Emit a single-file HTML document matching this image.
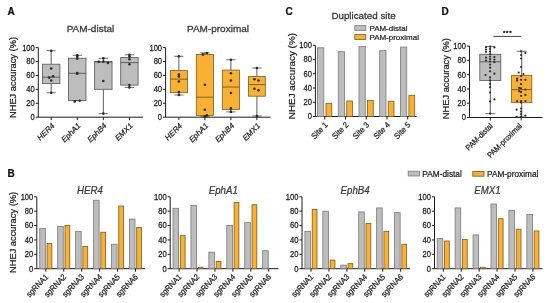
<!DOCTYPE html>
<html><head><meta charset="utf-8"><style>
html,body{margin:0;padding:0;background:#fff;overflow:hidden;width:550px;height:303px;}
svg{display:block;filter:blur(0.3px);font-family:"Liberation Sans", sans-serif;}
</style></head><body>
<svg width="550" height="303" viewBox="0 0 550 303">
<rect x="0" y="0" width="550" height="303" fill="#fff"/>
<text transform="translate(7.40,15.20) scale(1,1.1)" font-size="10" text-anchor="start" font-weight="bold" font-style="normal" fill="#111" stroke="#111" stroke-width="0.22" >A</text>
<text transform="translate(285.60,15.20) scale(1,1.1)" font-size="10" text-anchor="start" font-weight="bold" font-style="normal" fill="#111" stroke="#111" stroke-width="0.22" >C</text>
<text transform="translate(441.60,15.20) scale(1,1.1)" font-size="10" text-anchor="start" font-weight="bold" font-style="normal" fill="#111" stroke="#111" stroke-width="0.22" >D</text>
<text transform="translate(7.60,176.60) scale(1,1.1)" font-size="10" text-anchor="start" font-weight="bold" font-style="normal" fill="#111" stroke="#111" stroke-width="0.22" >B</text>
<line x1="38.30" y1="47.60" x2="38.30" y2="117.20" stroke="#1c1c1c" stroke-width="1"/>
<line x1="35.70" y1="117.20" x2="38.30" y2="117.20" stroke="#1c1c1c" stroke-width="1"/>
<text transform="translate(34.80,120.10) scale(1,1.16)" font-size="7.6" text-anchor="end" font-weight="normal" font-style="normal" fill="#1c1c1c" stroke="#1c1c1c" stroke-width="0.22" >0</text>
<line x1="35.70" y1="103.28" x2="38.30" y2="103.28" stroke="#1c1c1c" stroke-width="1"/>
<text transform="translate(34.80,106.18) scale(1,1.16)" font-size="7.6" text-anchor="end" font-weight="normal" font-style="normal" fill="#1c1c1c" stroke="#1c1c1c" stroke-width="0.22" >20</text>
<line x1="35.70" y1="89.36" x2="38.30" y2="89.36" stroke="#1c1c1c" stroke-width="1"/>
<text transform="translate(34.80,92.26) scale(1,1.16)" font-size="7.6" text-anchor="end" font-weight="normal" font-style="normal" fill="#1c1c1c" stroke="#1c1c1c" stroke-width="0.22" >40</text>
<line x1="35.70" y1="75.44" x2="38.30" y2="75.44" stroke="#1c1c1c" stroke-width="1"/>
<text transform="translate(34.80,78.34) scale(1,1.16)" font-size="7.6" text-anchor="end" font-weight="normal" font-style="normal" fill="#1c1c1c" stroke="#1c1c1c" stroke-width="0.22" >60</text>
<line x1="35.70" y1="61.52" x2="38.30" y2="61.52" stroke="#1c1c1c" stroke-width="1"/>
<text transform="translate(34.80,64.42) scale(1,1.16)" font-size="7.6" text-anchor="end" font-weight="normal" font-style="normal" fill="#1c1c1c" stroke="#1c1c1c" stroke-width="0.22" >80</text>
<line x1="35.70" y1="47.60" x2="38.30" y2="47.60" stroke="#1c1c1c" stroke-width="1"/>
<text transform="translate(34.80,50.50) scale(1,1.16)" font-size="7.6" text-anchor="end" font-weight="normal" font-style="normal" fill="#1c1c1c" stroke="#1c1c1c" stroke-width="0.22" >100</text>
<line x1="38.30" y1="117.20" x2="142.90" y2="117.20" stroke="#1c1c1c" stroke-width="1"/>
<line x1="51.20" y1="117.20" x2="51.20" y2="120.20" stroke="#1c1c1c" stroke-width="1"/>
<line x1="77.27" y1="117.20" x2="77.27" y2="120.20" stroke="#1c1c1c" stroke-width="1"/>
<line x1="103.34" y1="117.20" x2="103.34" y2="120.20" stroke="#1c1c1c" stroke-width="1"/>
<line x1="129.41" y1="117.20" x2="129.41" y2="120.20" stroke="#1c1c1c" stroke-width="1"/>
<text transform="translate(90.40,31.90) scale(1,0.92)" font-size="10" text-anchor="middle" font-weight="normal" font-style="normal" fill="#3a3a3a" stroke="#3a3a3a" stroke-width="0.3" >PAM-distal</text>
<text transform="translate(16.20,77.50) rotate(-90)" font-size="9.3" text-anchor="middle" fill="#1c1c1c" stroke="#1c1c1c" stroke-width="0.22">NHEJ accuracy (%)</text>
<line x1="51.20" y1="50.70" x2="51.20" y2="64.20" stroke="#333" stroke-width="0.8"/>
<line x1="51.20" y1="83.60" x2="51.20" y2="92.70" stroke="#333" stroke-width="0.8"/>
<line x1="46.60" y1="50.70" x2="55.80" y2="50.70" stroke="#4a4a4a" stroke-width="0.8"/>
<line x1="46.60" y1="92.70" x2="55.80" y2="92.70" stroke="#4a4a4a" stroke-width="0.8"/>
<rect x="42.50" y="64.20" width="17.40" height="19.40" fill="#bdbdbd" stroke="#555" stroke-width="0.8"/>
<line x1="42.50" y1="77.20" x2="59.90" y2="77.20" stroke="#555" stroke-width="0.9"/>
<circle cx="51.20" cy="50.70" r="1.3" fill="#2a2a2a"/>
<circle cx="51.20" cy="68.50" r="1.3" fill="#2a2a2a"/>
<circle cx="53.00" cy="76.20" r="1.3" fill="#2a2a2a"/>
<circle cx="49.20" cy="77.60" r="1.3" fill="#2a2a2a"/>
<circle cx="51.20" cy="80.50" r="1.3" fill="#2a2a2a"/>
<circle cx="51.20" cy="92.70" r="1.3" fill="#2a2a2a"/>
<line x1="77.27" y1="55.30" x2="77.27" y2="58.20" stroke="#333" stroke-width="0.8"/>
<line x1="77.27" y1="100.50" x2="77.27" y2="100.50" stroke="#333" stroke-width="0.8"/>
<line x1="72.67" y1="55.30" x2="81.87" y2="55.30" stroke="#4a4a4a" stroke-width="0.8"/>
<line x1="72.67" y1="100.50" x2="81.87" y2="100.50" stroke="#4a4a4a" stroke-width="0.8"/>
<rect x="68.57" y="58.20" width="17.40" height="42.30" fill="#bdbdbd" stroke="#555" stroke-width="0.8"/>
<line x1="68.57" y1="73.30" x2="85.97" y2="73.30" stroke="#555" stroke-width="0.9"/>
<circle cx="77.27" cy="55.30" r="1.3" fill="#2a2a2a"/>
<circle cx="77.27" cy="56.80" r="1.3" fill="#2a2a2a"/>
<circle cx="77.27" cy="58.70" r="1.3" fill="#2a2a2a"/>
<circle cx="77.27" cy="73.00" r="1.3" fill="#2a2a2a"/>
<circle cx="77.27" cy="73.80" r="1.3" fill="#2a2a2a"/>
<circle cx="74.67" cy="101.40" r="1.3" fill="#2a2a2a"/>
<circle cx="79.67" cy="100.80" r="1.3" fill="#2a2a2a"/>
<line x1="103.34" y1="58.30" x2="103.34" y2="61.40" stroke="#333" stroke-width="0.8"/>
<line x1="103.34" y1="89.30" x2="103.34" y2="113.60" stroke="#333" stroke-width="0.8"/>
<line x1="98.74" y1="58.30" x2="107.94" y2="58.30" stroke="#4a4a4a" stroke-width="0.8"/>
<line x1="98.74" y1="113.60" x2="107.94" y2="113.60" stroke="#4a4a4a" stroke-width="0.8"/>
<rect x="94.64" y="61.40" width="17.40" height="27.90" fill="#bdbdbd" stroke="#555" stroke-width="0.8"/>
<line x1="94.64" y1="62.00" x2="112.04" y2="62.00" stroke="#555" stroke-width="0.9"/>
<circle cx="103.34" cy="58.30" r="1.3" fill="#2a2a2a"/>
<circle cx="98.74" cy="61.70" r="1.3" fill="#2a2a2a"/>
<circle cx="103.34" cy="61.60" r="1.3" fill="#2a2a2a"/>
<circle cx="107.94" cy="63.00" r="1.3" fill="#2a2a2a"/>
<circle cx="103.34" cy="81.00" r="1.3" fill="#2a2a2a"/>
<circle cx="103.34" cy="113.60" r="1.3" fill="#2a2a2a"/>
<line x1="129.41" y1="54.80" x2="129.41" y2="57.40" stroke="#333" stroke-width="0.8"/>
<line x1="129.41" y1="85.10" x2="129.41" y2="87.40" stroke="#333" stroke-width="0.8"/>
<line x1="124.81" y1="54.80" x2="134.01" y2="54.80" stroke="#4a4a4a" stroke-width="0.8"/>
<line x1="124.81" y1="87.40" x2="134.01" y2="87.40" stroke="#4a4a4a" stroke-width="0.8"/>
<rect x="120.71" y="57.40" width="17.40" height="27.70" fill="#bdbdbd" stroke="#555" stroke-width="0.8"/>
<line x1="120.71" y1="62.60" x2="138.11" y2="62.60" stroke="#555" stroke-width="0.9"/>
<circle cx="129.41" cy="54.80" r="1.3" fill="#2a2a2a"/>
<circle cx="129.41" cy="56.60" r="1.3" fill="#2a2a2a"/>
<circle cx="129.41" cy="59.20" r="1.3" fill="#2a2a2a"/>
<circle cx="129.41" cy="64.30" r="1.3" fill="#2a2a2a"/>
<circle cx="129.41" cy="85.10" r="1.3" fill="#2a2a2a"/>
<circle cx="129.41" cy="87.40" r="1.3" fill="#2a2a2a"/>
<text transform="translate(55.00,126.30) scale(1,1.0) rotate(-45) scale(1.0,1)" font-size="7.8" text-anchor="end" font-style="italic" fill="#1c1c1c" stroke="#1c1c1c" stroke-width="0.22">HER4</text>
<text transform="translate(81.07,126.30) scale(1,1.0) rotate(-45) scale(1.0,1)" font-size="7.8" text-anchor="end" font-style="italic" fill="#1c1c1c" stroke="#1c1c1c" stroke-width="0.22">EphA1</text>
<text transform="translate(107.14,126.30) scale(1,1.0) rotate(-45) scale(1.0,1)" font-size="7.8" text-anchor="end" font-style="italic" fill="#1c1c1c" stroke="#1c1c1c" stroke-width="0.22">EphB4</text>
<text transform="translate(133.21,126.30) scale(1,1.0) rotate(-45) scale(1.0,1)" font-size="7.8" text-anchor="end" font-style="italic" fill="#1c1c1c" stroke="#1c1c1c" stroke-width="0.22">EMX1</text>
<line x1="165.60" y1="47.60" x2="165.60" y2="117.20" stroke="#1c1c1c" stroke-width="1"/>
<line x1="163.00" y1="117.20" x2="165.60" y2="117.20" stroke="#1c1c1c" stroke-width="1"/>
<text transform="translate(162.10,120.10) scale(1,1.16)" font-size="7.6" text-anchor="end" font-weight="normal" font-style="normal" fill="#1c1c1c" stroke="#1c1c1c" stroke-width="0.22" >0</text>
<line x1="163.00" y1="103.28" x2="165.60" y2="103.28" stroke="#1c1c1c" stroke-width="1"/>
<text transform="translate(162.10,106.18) scale(1,1.16)" font-size="7.6" text-anchor="end" font-weight="normal" font-style="normal" fill="#1c1c1c" stroke="#1c1c1c" stroke-width="0.22" >20</text>
<line x1="163.00" y1="89.36" x2="165.60" y2="89.36" stroke="#1c1c1c" stroke-width="1"/>
<text transform="translate(162.10,92.26) scale(1,1.16)" font-size="7.6" text-anchor="end" font-weight="normal" font-style="normal" fill="#1c1c1c" stroke="#1c1c1c" stroke-width="0.22" >40</text>
<line x1="163.00" y1="75.44" x2="165.60" y2="75.44" stroke="#1c1c1c" stroke-width="1"/>
<text transform="translate(162.10,78.34) scale(1,1.16)" font-size="7.6" text-anchor="end" font-weight="normal" font-style="normal" fill="#1c1c1c" stroke="#1c1c1c" stroke-width="0.22" >60</text>
<line x1="163.00" y1="61.52" x2="165.60" y2="61.52" stroke="#1c1c1c" stroke-width="1"/>
<text transform="translate(162.10,64.42) scale(1,1.16)" font-size="7.6" text-anchor="end" font-weight="normal" font-style="normal" fill="#1c1c1c" stroke="#1c1c1c" stroke-width="0.22" >80</text>
<line x1="163.00" y1="47.60" x2="165.60" y2="47.60" stroke="#1c1c1c" stroke-width="1"/>
<text transform="translate(162.10,50.50) scale(1,1.16)" font-size="7.6" text-anchor="end" font-weight="normal" font-style="normal" fill="#1c1c1c" stroke="#1c1c1c" stroke-width="0.22" >100</text>
<line x1="165.60" y1="117.20" x2="270.50" y2="117.20" stroke="#1c1c1c" stroke-width="1"/>
<line x1="178.90" y1="117.20" x2="178.90" y2="120.20" stroke="#1c1c1c" stroke-width="1"/>
<line x1="204.90" y1="117.20" x2="204.90" y2="120.20" stroke="#1c1c1c" stroke-width="1"/>
<line x1="230.90" y1="117.20" x2="230.90" y2="120.20" stroke="#1c1c1c" stroke-width="1"/>
<line x1="256.90" y1="117.20" x2="256.90" y2="120.20" stroke="#1c1c1c" stroke-width="1"/>
<text transform="translate(218.00,31.90) scale(1,0.92)" font-size="10" text-anchor="middle" font-weight="normal" font-style="normal" fill="#3a3a3a" stroke="#3a3a3a" stroke-width="0.3" >PAM-proximal</text>
<line x1="178.90" y1="56.30" x2="178.90" y2="70.60" stroke="#333" stroke-width="0.8"/>
<line x1="178.90" y1="92.70" x2="178.90" y2="95.00" stroke="#333" stroke-width="0.8"/>
<line x1="174.30" y1="56.30" x2="183.50" y2="56.30" stroke="#4a4a4a" stroke-width="0.8"/>
<line x1="174.30" y1="95.00" x2="183.50" y2="95.00" stroke="#4a4a4a" stroke-width="0.8"/>
<rect x="170.30" y="70.60" width="17.20" height="22.10" fill="#f8b133" stroke="#7a5a22" stroke-width="0.8"/>
<line x1="170.30" y1="79.10" x2="187.50" y2="79.10" stroke="#7a5a22" stroke-width="0.9"/>
<circle cx="178.90" cy="56.30" r="1.3" fill="#2a2a2a"/>
<circle cx="178.90" cy="74.60" r="1.3" fill="#2a2a2a"/>
<circle cx="178.90" cy="76.50" r="1.3" fill="#2a2a2a"/>
<circle cx="178.90" cy="81.50" r="1.3" fill="#2a2a2a"/>
<circle cx="178.90" cy="92.00" r="1.3" fill="#2a2a2a"/>
<circle cx="178.90" cy="95.00" r="1.3" fill="#2a2a2a"/>
<line x1="204.90" y1="52.80" x2="204.90" y2="54.40" stroke="#333" stroke-width="0.8"/>
<line x1="204.90" y1="115.40" x2="204.90" y2="116.20" stroke="#333" stroke-width="0.8"/>
<line x1="200.30" y1="52.80" x2="209.50" y2="52.80" stroke="#4a4a4a" stroke-width="0.8"/>
<line x1="200.30" y1="116.20" x2="209.50" y2="116.20" stroke="#4a4a4a" stroke-width="0.8"/>
<rect x="196.30" y="54.40" width="17.20" height="61.00" fill="#f8b133" stroke="#7a5a22" stroke-width="0.8"/>
<line x1="196.30" y1="97.20" x2="213.50" y2="97.20" stroke="#7a5a22" stroke-width="0.9"/>
<circle cx="202.90" cy="54.40" r="1.3" fill="#2a2a2a"/>
<circle cx="206.90" cy="53.00" r="1.3" fill="#2a2a2a"/>
<circle cx="204.90" cy="84.80" r="1.3" fill="#2a2a2a"/>
<circle cx="204.90" cy="109.80" r="1.3" fill="#2a2a2a"/>
<circle cx="206.90" cy="115.40" r="1.3" fill="#2a2a2a"/>
<circle cx="204.90" cy="116.20" r="1.3" fill="#2a2a2a"/>
<line x1="230.90" y1="59.70" x2="230.90" y2="70.10" stroke="#333" stroke-width="0.8"/>
<line x1="230.90" y1="109.40" x2="230.90" y2="111.90" stroke="#333" stroke-width="0.8"/>
<line x1="226.30" y1="59.70" x2="235.50" y2="59.70" stroke="#4a4a4a" stroke-width="0.8"/>
<line x1="226.30" y1="111.90" x2="235.50" y2="111.90" stroke="#4a4a4a" stroke-width="0.8"/>
<rect x="222.30" y="70.10" width="17.20" height="39.30" fill="#f8b133" stroke="#7a5a22" stroke-width="0.8"/>
<line x1="222.30" y1="87.00" x2="239.50" y2="87.00" stroke="#7a5a22" stroke-width="0.9"/>
<circle cx="230.90" cy="59.70" r="1.3" fill="#2a2a2a"/>
<circle cx="230.90" cy="73.30" r="1.3" fill="#2a2a2a"/>
<circle cx="230.90" cy="80.50" r="1.3" fill="#2a2a2a"/>
<circle cx="230.90" cy="93.00" r="1.3" fill="#2a2a2a"/>
<circle cx="230.90" cy="108.40" r="1.3" fill="#2a2a2a"/>
<circle cx="230.90" cy="111.90" r="1.3" fill="#2a2a2a"/>
<line x1="256.90" y1="68.00" x2="256.90" y2="76.60" stroke="#333" stroke-width="0.8"/>
<line x1="256.90" y1="96.20" x2="256.90" y2="116.00" stroke="#333" stroke-width="0.8"/>
<line x1="252.30" y1="68.00" x2="261.50" y2="68.00" stroke="#4a4a4a" stroke-width="0.8"/>
<line x1="252.30" y1="116.00" x2="261.50" y2="116.00" stroke="#4a4a4a" stroke-width="0.8"/>
<rect x="248.50" y="76.60" width="16.80" height="19.60" fill="#f8b133" stroke="#7a5a22" stroke-width="0.8"/>
<line x1="248.50" y1="84.60" x2="265.30" y2="84.60" stroke="#7a5a22" stroke-width="0.9"/>
<circle cx="256.90" cy="68.00" r="1.3" fill="#2a2a2a"/>
<circle cx="254.40" cy="79.30" r="1.3" fill="#2a2a2a"/>
<circle cx="258.50" cy="80.50" r="1.3" fill="#2a2a2a"/>
<circle cx="254.40" cy="88.80" r="1.3" fill="#2a2a2a"/>
<circle cx="258.50" cy="90.20" r="1.3" fill="#2a2a2a"/>
<circle cx="256.90" cy="116.00" r="1.3" fill="#2a2a2a"/>
<text transform="translate(182.70,126.30) scale(1,1.0) rotate(-45) scale(1.0,1)" font-size="7.8" text-anchor="end" font-style="italic" fill="#1c1c1c" stroke="#1c1c1c" stroke-width="0.22">HER4</text>
<text transform="translate(208.70,126.30) scale(1,1.0) rotate(-45) scale(1.0,1)" font-size="7.8" text-anchor="end" font-style="italic" fill="#1c1c1c" stroke="#1c1c1c" stroke-width="0.22">EphA1</text>
<text transform="translate(234.70,126.30) scale(1,1.0) rotate(-45) scale(1.0,1)" font-size="7.8" text-anchor="end" font-style="italic" fill="#1c1c1c" stroke="#1c1c1c" stroke-width="0.22">EphB4</text>
<text transform="translate(260.70,126.30) scale(1,1.0) rotate(-45) scale(1.0,1)" font-size="7.8" text-anchor="end" font-style="italic" fill="#1c1c1c" stroke="#1c1c1c" stroke-width="0.22">EMX1</text>
<line x1="315.40" y1="45.30" x2="315.40" y2="116.50" stroke="#1c1c1c" stroke-width="1"/>
<line x1="312.80" y1="116.50" x2="315.40" y2="116.50" stroke="#1c1c1c" stroke-width="1"/>
<text transform="translate(311.90,119.40) scale(1,1.16)" font-size="7.6" text-anchor="end" font-weight="normal" font-style="normal" fill="#1c1c1c" stroke="#1c1c1c" stroke-width="0.22" >0</text>
<line x1="312.80" y1="102.26" x2="315.40" y2="102.26" stroke="#1c1c1c" stroke-width="1"/>
<text transform="translate(311.90,105.16) scale(1,1.16)" font-size="7.6" text-anchor="end" font-weight="normal" font-style="normal" fill="#1c1c1c" stroke="#1c1c1c" stroke-width="0.22" >20</text>
<line x1="312.80" y1="88.02" x2="315.40" y2="88.02" stroke="#1c1c1c" stroke-width="1"/>
<text transform="translate(311.90,90.92) scale(1,1.16)" font-size="7.6" text-anchor="end" font-weight="normal" font-style="normal" fill="#1c1c1c" stroke="#1c1c1c" stroke-width="0.22" >40</text>
<line x1="312.80" y1="73.78" x2="315.40" y2="73.78" stroke="#1c1c1c" stroke-width="1"/>
<text transform="translate(311.90,76.68) scale(1,1.16)" font-size="7.6" text-anchor="end" font-weight="normal" font-style="normal" fill="#1c1c1c" stroke="#1c1c1c" stroke-width="0.22" >60</text>
<line x1="312.80" y1="59.54" x2="315.40" y2="59.54" stroke="#1c1c1c" stroke-width="1"/>
<text transform="translate(311.90,62.44) scale(1,1.16)" font-size="7.6" text-anchor="end" font-weight="normal" font-style="normal" fill="#1c1c1c" stroke="#1c1c1c" stroke-width="0.22" >80</text>
<line x1="312.80" y1="45.30" x2="315.40" y2="45.30" stroke="#1c1c1c" stroke-width="1"/>
<text transform="translate(311.90,48.20) scale(1,1.16)" font-size="7.6" text-anchor="end" font-weight="normal" font-style="normal" fill="#1c1c1c" stroke="#1c1c1c" stroke-width="0.22" >100</text>
<line x1="315.40" y1="116.50" x2="416.60" y2="116.50" stroke="#1c1c1c" stroke-width="1"/>
<rect x="317.50" y="47.79" width="6.30" height="68.71" fill="#bdbdbd" stroke="#7a7a7a" stroke-width="0.8"/>
<rect x="326.00" y="103.26" width="5.80" height="13.24" fill="#f8b133" stroke="#7a5a22" stroke-width="0.8"/>
<line x1="324.80" y1="116.50" x2="324.80" y2="119.50" stroke="#1c1c1c" stroke-width="1"/>
<rect x="338.23" y="51.71" width="6.30" height="64.79" fill="#bdbdbd" stroke="#7a7a7a" stroke-width="0.8"/>
<rect x="346.73" y="100.98" width="5.80" height="15.52" fill="#f8b133" stroke="#7a5a22" stroke-width="0.8"/>
<line x1="345.53" y1="116.50" x2="345.53" y2="119.50" stroke="#1c1c1c" stroke-width="1"/>
<rect x="358.96" y="46.37" width="6.30" height="70.13" fill="#bdbdbd" stroke="#7a7a7a" stroke-width="0.8"/>
<rect x="367.46" y="100.41" width="5.80" height="16.09" fill="#f8b133" stroke="#7a5a22" stroke-width="0.8"/>
<line x1="366.26" y1="116.50" x2="366.26" y2="119.50" stroke="#1c1c1c" stroke-width="1"/>
<rect x="379.69" y="50.64" width="6.30" height="65.86" fill="#bdbdbd" stroke="#7a7a7a" stroke-width="0.8"/>
<rect x="388.19" y="101.19" width="5.80" height="15.31" fill="#f8b133" stroke="#7a5a22" stroke-width="0.8"/>
<line x1="386.99" y1="116.50" x2="386.99" y2="119.50" stroke="#1c1c1c" stroke-width="1"/>
<rect x="400.42" y="47.08" width="6.30" height="69.42" fill="#bdbdbd" stroke="#7a7a7a" stroke-width="0.8"/>
<rect x="408.92" y="95.28" width="5.80" height="21.22" fill="#f8b133" stroke="#7a5a22" stroke-width="0.8"/>
<line x1="407.72" y1="116.50" x2="407.72" y2="119.50" stroke="#1c1c1c" stroke-width="1"/>
<text transform="translate(328.20,125.40) scale(1,1.05) rotate(-45) scale(0.95,1)" font-size="8" text-anchor="end" font-style="normal" fill="#1c1c1c" stroke="#1c1c1c" stroke-width="0.22">Site 1</text>
<text transform="translate(348.93,125.40) scale(1,1.05) rotate(-45) scale(0.95,1)" font-size="8" text-anchor="end" font-style="normal" fill="#1c1c1c" stroke="#1c1c1c" stroke-width="0.22">Site 2</text>
<text transform="translate(369.66,125.40) scale(1,1.05) rotate(-45) scale(0.95,1)" font-size="8" text-anchor="end" font-style="normal" fill="#1c1c1c" stroke="#1c1c1c" stroke-width="0.22">Site 3</text>
<text transform="translate(390.39,125.40) scale(1,1.05) rotate(-45) scale(0.95,1)" font-size="8" text-anchor="end" font-style="normal" fill="#1c1c1c" stroke="#1c1c1c" stroke-width="0.22">Site 4</text>
<text transform="translate(411.12,125.40) scale(1,1.05) rotate(-45) scale(0.95,1)" font-size="8" text-anchor="end" font-style="normal" fill="#1c1c1c" stroke="#1c1c1c" stroke-width="0.22">Site 5</text>
<text transform="translate(363.50,19.00) scale(1,0.92)" font-size="9.8" text-anchor="middle" font-weight="normal" font-style="normal" fill="#3a3a3a" stroke="#3a3a3a" stroke-width="0.3" >Duplicated site</text>
<rect x="354.80" y="25.60" width="11.00" height="4.80" fill="#bdbdbd" stroke="#7a7a7a" stroke-width="0.8"/>
<rect x="354.80" y="34.60" width="11.00" height="4.80" fill="#f8b133" stroke="#7a5a22" stroke-width="0.8"/>
<text transform="translate(369.40,30.90) scale(1,0.98)" font-size="8" text-anchor="start" font-weight="normal" font-style="normal" fill="#1c1c1c" stroke="#1c1c1c" stroke-width="0.22" >PAM-distal</text>
<text transform="translate(369.40,39.90) scale(1,0.98)" font-size="8" text-anchor="start" font-weight="normal" font-style="normal" fill="#1c1c1c" stroke="#1c1c1c" stroke-width="0.22" >PAM-proximal</text>
<text transform="translate(294.90,76.10) rotate(-90)" font-size="9.9" text-anchor="middle" fill="#1c1c1c" stroke="#1c1c1c" stroke-width="0.22">NHEJ accuracy (%)</text>
<line x1="469.50" y1="46.10" x2="469.50" y2="117.50" stroke="#1c1c1c" stroke-width="1"/>
<line x1="466.90" y1="117.50" x2="469.50" y2="117.50" stroke="#1c1c1c" stroke-width="1"/>
<text transform="translate(466.00,120.40) scale(1,1.16)" font-size="7.6" text-anchor="end" font-weight="normal" font-style="normal" fill="#1c1c1c" stroke="#1c1c1c" stroke-width="0.22" >0</text>
<line x1="466.90" y1="103.22" x2="469.50" y2="103.22" stroke="#1c1c1c" stroke-width="1"/>
<text transform="translate(466.00,106.12) scale(1,1.16)" font-size="7.6" text-anchor="end" font-weight="normal" font-style="normal" fill="#1c1c1c" stroke="#1c1c1c" stroke-width="0.22" >20</text>
<line x1="466.90" y1="88.94" x2="469.50" y2="88.94" stroke="#1c1c1c" stroke-width="1"/>
<text transform="translate(466.00,91.84) scale(1,1.16)" font-size="7.6" text-anchor="end" font-weight="normal" font-style="normal" fill="#1c1c1c" stroke="#1c1c1c" stroke-width="0.22" >40</text>
<line x1="466.90" y1="74.66" x2="469.50" y2="74.66" stroke="#1c1c1c" stroke-width="1"/>
<text transform="translate(466.00,77.56) scale(1,1.16)" font-size="7.6" text-anchor="end" font-weight="normal" font-style="normal" fill="#1c1c1c" stroke="#1c1c1c" stroke-width="0.22" >60</text>
<line x1="466.90" y1="60.38" x2="469.50" y2="60.38" stroke="#1c1c1c" stroke-width="1"/>
<text transform="translate(466.00,63.28) scale(1,1.16)" font-size="7.6" text-anchor="end" font-weight="normal" font-style="normal" fill="#1c1c1c" stroke="#1c1c1c" stroke-width="0.22" >80</text>
<line x1="466.90" y1="46.10" x2="469.50" y2="46.10" stroke="#1c1c1c" stroke-width="1"/>
<text transform="translate(466.00,49.00) scale(1,1.16)" font-size="7.6" text-anchor="end" font-weight="normal" font-style="normal" fill="#1c1c1c" stroke="#1c1c1c" stroke-width="0.22" >100</text>
<line x1="469.50" y1="117.50" x2="542.40" y2="117.50" stroke="#1c1c1c" stroke-width="1"/>
<line x1="490.30" y1="117.50" x2="490.30" y2="120.50" stroke="#1c1c1c" stroke-width="1"/>
<line x1="521.20" y1="117.50" x2="521.20" y2="120.50" stroke="#1c1c1c" stroke-width="1"/>
<line x1="490.30" y1="46.60" x2="490.30" y2="54.30" stroke="#333" stroke-width="0.8"/>
<line x1="490.30" y1="80.40" x2="490.30" y2="113.60" stroke="#333" stroke-width="0.8"/>
<line x1="485.30" y1="46.60" x2="495.30" y2="46.60" stroke="#4a4a4a" stroke-width="0.8"/>
<line x1="485.30" y1="113.60" x2="495.30" y2="113.60" stroke="#4a4a4a" stroke-width="0.8"/>
<rect x="479.80" y="54.30" width="21.00" height="26.10" fill="#bdbdbd" stroke="#555" stroke-width="0.8"/>
<line x1="479.80" y1="61.80" x2="500.80" y2="61.80" stroke="#555" stroke-width="0.9"/>
<circle cx="490.10" cy="46.60" r="1.1" fill="#2a2a2a"/>
<circle cx="490.10" cy="49.00" r="1.1" fill="#2a2a2a"/>
<circle cx="490.10" cy="51.50" r="1.1" fill="#2a2a2a"/>
<circle cx="486.00" cy="47.20" r="1.1" fill="#2a2a2a"/>
<circle cx="486.00" cy="49.50" r="1.1" fill="#2a2a2a"/>
<circle cx="486.00" cy="51.80" r="1.1" fill="#2a2a2a"/>
<circle cx="494.40" cy="47.50" r="1.1" fill="#2a2a2a"/>
<circle cx="490.10" cy="54.00" r="1.1" fill="#2a2a2a"/>
<circle cx="490.10" cy="56.50" r="1.1" fill="#2a2a2a"/>
<circle cx="486.00" cy="57.60" r="1.1" fill="#2a2a2a"/>
<circle cx="486.00" cy="60.50" r="1.1" fill="#2a2a2a"/>
<circle cx="490.10" cy="59.00" r="1.1" fill="#2a2a2a"/>
<circle cx="490.10" cy="61.50" r="1.1" fill="#2a2a2a"/>
<circle cx="494.40" cy="57.00" r="1.1" fill="#2a2a2a"/>
<circle cx="494.40" cy="59.50" r="1.1" fill="#2a2a2a"/>
<circle cx="494.40" cy="62.20" r="1.1" fill="#2a2a2a"/>
<circle cx="490.10" cy="64.50" r="1.1" fill="#2a2a2a"/>
<circle cx="490.10" cy="67.70" r="1.1" fill="#2a2a2a"/>
<circle cx="490.10" cy="71.30" r="1.1" fill="#2a2a2a"/>
<circle cx="485.50" cy="75.00" r="1.1" fill="#2a2a2a"/>
<circle cx="494.40" cy="73.70" r="1.1" fill="#2a2a2a"/>
<circle cx="490.10" cy="77.40" r="1.1" fill="#2a2a2a"/>
<circle cx="490.10" cy="80.40" r="1.1" fill="#2a2a2a"/>
<circle cx="490.10" cy="83.90" r="1.1" fill="#2a2a2a"/>
<circle cx="490.10" cy="87.20" r="1.1" fill="#2a2a2a"/>
<circle cx="490.10" cy="92.50" r="1.1" fill="#2a2a2a"/>
<circle cx="490.10" cy="101.40" r="1.1" fill="#2a2a2a"/>
<circle cx="494.40" cy="99.40" r="1.1" fill="#2a2a2a"/>
<circle cx="490.10" cy="113.60" r="1.1" fill="#2a2a2a"/>
<line x1="521.70" y1="51.30" x2="521.70" y2="75.30" stroke="#333" stroke-width="0.8"/>
<line x1="521.70" y1="102.70" x2="521.70" y2="117.00" stroke="#333" stroke-width="0.8"/>
<line x1="516.70" y1="51.30" x2="526.70" y2="51.30" stroke="#4a4a4a" stroke-width="0.8"/>
<line x1="516.70" y1="117.00" x2="526.70" y2="117.00" stroke="#4a4a4a" stroke-width="0.8"/>
<rect x="511.60" y="75.30" width="20.20" height="27.40" fill="#f8b133" stroke="#7a5a22" stroke-width="0.8"/>
<line x1="511.60" y1="89.60" x2="531.80" y2="89.60" stroke="#7a5a22" stroke-width="0.9"/>
<circle cx="521.10" cy="51.30" r="1.1" fill="#2a2a2a"/>
<circle cx="525.40" cy="53.00" r="1.1" fill="#2a2a2a"/>
<circle cx="521.10" cy="55.00" r="1.1" fill="#2a2a2a"/>
<circle cx="521.10" cy="58.50" r="1.1" fill="#2a2a2a"/>
<circle cx="521.10" cy="67.00" r="1.1" fill="#2a2a2a"/>
<circle cx="518.70" cy="72.50" r="1.1" fill="#2a2a2a"/>
<circle cx="523.50" cy="74.00" r="1.1" fill="#2a2a2a"/>
<circle cx="521.10" cy="76.00" r="1.1" fill="#2a2a2a"/>
<circle cx="517.10" cy="78.70" r="1.1" fill="#2a2a2a"/>
<circle cx="517.10" cy="80.60" r="1.1" fill="#2a2a2a"/>
<circle cx="521.10" cy="79.80" r="1.1" fill="#2a2a2a"/>
<circle cx="525.40" cy="79.80" r="1.1" fill="#2a2a2a"/>
<circle cx="521.10" cy="84.20" r="1.1" fill="#2a2a2a"/>
<circle cx="519.20" cy="87.90" r="1.1" fill="#2a2a2a"/>
<circle cx="521.10" cy="88.30" r="1.1" fill="#2a2a2a"/>
<circle cx="525.40" cy="89.60" r="1.1" fill="#2a2a2a"/>
<circle cx="519.20" cy="91.20" r="1.1" fill="#2a2a2a"/>
<circle cx="521.10" cy="91.90" r="1.1" fill="#2a2a2a"/>
<circle cx="525.40" cy="94.90" r="1.1" fill="#2a2a2a"/>
<circle cx="521.10" cy="95.80" r="1.1" fill="#2a2a2a"/>
<circle cx="521.10" cy="101.00" r="1.1" fill="#2a2a2a"/>
<circle cx="517.10" cy="101.00" r="1.1" fill="#2a2a2a"/>
<circle cx="525.40" cy="101.00" r="1.1" fill="#2a2a2a"/>
<circle cx="521.10" cy="102.40" r="1.1" fill="#2a2a2a"/>
<circle cx="521.10" cy="108.60" r="1.1" fill="#2a2a2a"/>
<circle cx="516.60" cy="109.70" r="1.1" fill="#2a2a2a"/>
<circle cx="521.10" cy="111.60" r="1.1" fill="#2a2a2a"/>
<circle cx="521.10" cy="114.00" r="1.1" fill="#2a2a2a"/>
<circle cx="521.10" cy="116.50" r="1.1" fill="#2a2a2a"/>
<circle cx="516.60" cy="116.80" r="1.1" fill="#2a2a2a"/>
<circle cx="525.40" cy="115.60" r="1.1" fill="#2a2a2a"/>
<line x1="493.40" y1="36.40" x2="521.20" y2="36.40" stroke="#444" stroke-width="1.0"/>
<text transform="translate(507.60,34.70) scale(1,1.0)" font-size="6.2" text-anchor="middle" font-weight="normal" font-style="normal" fill="#222" stroke="#222" stroke-width="0.35" letter-spacing="0.7">***</text>
<text transform="translate(493.30,126.50) scale(1,1.0) rotate(-45) scale(0.91,1)" font-size="8" text-anchor="end" font-style="normal" fill="#1c1c1c" stroke="#1c1c1c" stroke-width="0.22">PAM-distal</text>
<text transform="translate(522.40,126.50) scale(1,1.0) rotate(-45) scale(0.91,1)" font-size="8" text-anchor="end" font-style="normal" fill="#1c1c1c" stroke="#1c1c1c" stroke-width="0.22">PAM-proximal</text>
<text transform="translate(448.50,78.65) rotate(-90)" font-size="9.3" text-anchor="middle" fill="#1c1c1c" stroke="#1c1c1c" stroke-width="0.22">NHEJ accuracy (%)</text>
<line x1="36.80" y1="196.80" x2="36.80" y2="268.70" stroke="#1c1c1c" stroke-width="1"/>
<line x1="34.20" y1="268.70" x2="36.80" y2="268.70" stroke="#1c1c1c" stroke-width="1"/>
<text transform="translate(33.30,271.60) scale(1,1.16)" font-size="7.6" text-anchor="end" font-weight="normal" font-style="normal" fill="#1c1c1c" stroke="#1c1c1c" stroke-width="0.22" >0</text>
<line x1="34.20" y1="254.32" x2="36.80" y2="254.32" stroke="#1c1c1c" stroke-width="1"/>
<text transform="translate(33.30,257.22) scale(1,1.16)" font-size="7.6" text-anchor="end" font-weight="normal" font-style="normal" fill="#1c1c1c" stroke="#1c1c1c" stroke-width="0.22" >20</text>
<line x1="34.20" y1="239.94" x2="36.80" y2="239.94" stroke="#1c1c1c" stroke-width="1"/>
<text transform="translate(33.30,242.84) scale(1,1.16)" font-size="7.6" text-anchor="end" font-weight="normal" font-style="normal" fill="#1c1c1c" stroke="#1c1c1c" stroke-width="0.22" >40</text>
<line x1="34.20" y1="225.56" x2="36.80" y2="225.56" stroke="#1c1c1c" stroke-width="1"/>
<text transform="translate(33.30,228.46) scale(1,1.16)" font-size="7.6" text-anchor="end" font-weight="normal" font-style="normal" fill="#1c1c1c" stroke="#1c1c1c" stroke-width="0.22" >60</text>
<line x1="34.20" y1="211.18" x2="36.80" y2="211.18" stroke="#1c1c1c" stroke-width="1"/>
<text transform="translate(33.30,214.08) scale(1,1.16)" font-size="7.6" text-anchor="end" font-weight="normal" font-style="normal" fill="#1c1c1c" stroke="#1c1c1c" stroke-width="0.22" >80</text>
<line x1="34.20" y1="196.80" x2="36.80" y2="196.80" stroke="#1c1c1c" stroke-width="1"/>
<text transform="translate(33.30,199.70) scale(1,1.16)" font-size="7.6" text-anchor="end" font-weight="normal" font-style="normal" fill="#1c1c1c" stroke="#1c1c1c" stroke-width="0.22" >100</text>
<line x1="36.80" y1="268.70" x2="145.05" y2="268.70" stroke="#1c1c1c" stroke-width="1"/>
<rect x="39.75" y="228.51" width="5.60" height="40.19" fill="#bdbdbd" stroke="#7a7a7a" stroke-width="0.8"/>
<rect x="47.05" y="243.39" width="4.80" height="25.31" fill="#f8b133" stroke="#7a5a22" stroke-width="0.8"/>
<line x1="45.85" y1="268.70" x2="45.85" y2="271.70" stroke="#1c1c1c" stroke-width="1"/>
<rect x="57.68" y="226.49" width="5.60" height="42.21" fill="#bdbdbd" stroke="#7a7a7a" stroke-width="0.8"/>
<rect x="64.98" y="225.49" width="4.80" height="43.21" fill="#f8b133" stroke="#7a5a22" stroke-width="0.8"/>
<line x1="63.78" y1="268.70" x2="63.78" y2="271.70" stroke="#1c1c1c" stroke-width="1"/>
<rect x="75.61" y="231.31" width="5.60" height="37.39" fill="#bdbdbd" stroke="#7a7a7a" stroke-width="0.8"/>
<rect x="82.91" y="246.41" width="4.80" height="22.29" fill="#f8b133" stroke="#7a5a22" stroke-width="0.8"/>
<line x1="81.71" y1="268.70" x2="81.71" y2="271.70" stroke="#1c1c1c" stroke-width="1"/>
<rect x="93.54" y="200.18" width="5.60" height="68.52" fill="#bdbdbd" stroke="#7a7a7a" stroke-width="0.8"/>
<rect x="100.84" y="232.25" width="4.80" height="36.45" fill="#f8b133" stroke="#7a5a22" stroke-width="0.8"/>
<line x1="99.64" y1="268.70" x2="99.64" y2="271.70" stroke="#1c1c1c" stroke-width="1"/>
<rect x="111.47" y="244.25" width="5.60" height="24.45" fill="#bdbdbd" stroke="#7a7a7a" stroke-width="0.8"/>
<rect x="118.77" y="206.00" width="4.80" height="62.70" fill="#f8b133" stroke="#7a5a22" stroke-width="0.8"/>
<line x1="117.57" y1="268.70" x2="117.57" y2="271.70" stroke="#1c1c1c" stroke-width="1"/>
<rect x="129.40" y="219.09" width="5.60" height="49.61" fill="#bdbdbd" stroke="#7a7a7a" stroke-width="0.8"/>
<rect x="136.70" y="227.36" width="4.80" height="41.34" fill="#f8b133" stroke="#7a5a22" stroke-width="0.8"/>
<line x1="135.50" y1="268.70" x2="135.50" y2="271.70" stroke="#1c1c1c" stroke-width="1"/>
<text transform="translate(48.75,277.40) scale(1,1.06) rotate(-45) scale(0.91,1)" font-size="8" text-anchor="end" font-style="normal" fill="#1c1c1c" stroke="#1c1c1c" stroke-width="0.22">sgRNA1</text>
<text transform="translate(66.68,277.40) scale(1,1.06) rotate(-45) scale(0.91,1)" font-size="8" text-anchor="end" font-style="normal" fill="#1c1c1c" stroke="#1c1c1c" stroke-width="0.22">sgRNA2</text>
<text transform="translate(84.61,277.40) scale(1,1.06) rotate(-45) scale(0.91,1)" font-size="8" text-anchor="end" font-style="normal" fill="#1c1c1c" stroke="#1c1c1c" stroke-width="0.22">sgRNA3</text>
<text transform="translate(102.54,277.40) scale(1,1.06) rotate(-45) scale(0.91,1)" font-size="8" text-anchor="end" font-style="normal" fill="#1c1c1c" stroke="#1c1c1c" stroke-width="0.22">sgRNA4</text>
<text transform="translate(120.47,277.40) scale(1,1.06) rotate(-45) scale(0.91,1)" font-size="8" text-anchor="end" font-style="normal" fill="#1c1c1c" stroke="#1c1c1c" stroke-width="0.22">sgRNA5</text>
<text transform="translate(138.40,277.40) scale(1,1.06) rotate(-45) scale(0.91,1)" font-size="8" text-anchor="end" font-style="normal" fill="#1c1c1c" stroke="#1c1c1c" stroke-width="0.22">sgRNA6</text>
<text transform="translate(89.93,193.90) scale(1,1.1)" font-size="9.7" text-anchor="middle" font-weight="normal" font-style="italic" fill="#3a3a3a" stroke="#3a3a3a" stroke-width="0.22" >HER4</text>
<line x1="170.20" y1="196.80" x2="170.20" y2="268.70" stroke="#1c1c1c" stroke-width="1"/>
<line x1="167.60" y1="268.70" x2="170.20" y2="268.70" stroke="#1c1c1c" stroke-width="1"/>
<text transform="translate(166.70,271.60) scale(1,1.16)" font-size="7.6" text-anchor="end" font-weight="normal" font-style="normal" fill="#1c1c1c" stroke="#1c1c1c" stroke-width="0.22" >0</text>
<line x1="167.60" y1="254.32" x2="170.20" y2="254.32" stroke="#1c1c1c" stroke-width="1"/>
<text transform="translate(166.70,257.22) scale(1,1.16)" font-size="7.6" text-anchor="end" font-weight="normal" font-style="normal" fill="#1c1c1c" stroke="#1c1c1c" stroke-width="0.22" >20</text>
<line x1="167.60" y1="239.94" x2="170.20" y2="239.94" stroke="#1c1c1c" stroke-width="1"/>
<text transform="translate(166.70,242.84) scale(1,1.16)" font-size="7.6" text-anchor="end" font-weight="normal" font-style="normal" fill="#1c1c1c" stroke="#1c1c1c" stroke-width="0.22" >40</text>
<line x1="167.60" y1="225.56" x2="170.20" y2="225.56" stroke="#1c1c1c" stroke-width="1"/>
<text transform="translate(166.70,228.46) scale(1,1.16)" font-size="7.6" text-anchor="end" font-weight="normal" font-style="normal" fill="#1c1c1c" stroke="#1c1c1c" stroke-width="0.22" >60</text>
<line x1="167.60" y1="211.18" x2="170.20" y2="211.18" stroke="#1c1c1c" stroke-width="1"/>
<text transform="translate(166.70,214.08) scale(1,1.16)" font-size="7.6" text-anchor="end" font-weight="normal" font-style="normal" fill="#1c1c1c" stroke="#1c1c1c" stroke-width="0.22" >80</text>
<line x1="167.60" y1="196.80" x2="170.20" y2="196.80" stroke="#1c1c1c" stroke-width="1"/>
<text transform="translate(166.70,199.70) scale(1,1.16)" font-size="7.6" text-anchor="end" font-weight="normal" font-style="normal" fill="#1c1c1c" stroke="#1c1c1c" stroke-width="0.22" >100</text>
<line x1="170.20" y1="268.70" x2="278.30" y2="268.70" stroke="#1c1c1c" stroke-width="1"/>
<rect x="173.00" y="208.30" width="5.60" height="60.40" fill="#bdbdbd" stroke="#7a7a7a" stroke-width="0.8"/>
<rect x="180.30" y="235.63" width="4.80" height="33.07" fill="#f8b133" stroke="#7a5a22" stroke-width="0.8"/>
<line x1="179.10" y1="268.70" x2="179.10" y2="271.70" stroke="#1c1c1c" stroke-width="1"/>
<rect x="190.93" y="205.43" width="5.60" height="63.27" fill="#bdbdbd" stroke="#7a7a7a" stroke-width="0.8"/>
<rect x="198.23" y="267.26" width="4.80" height="1.44" fill="#f8b133" stroke="#7a5a22" stroke-width="0.8"/>
<line x1="197.03" y1="268.70" x2="197.03" y2="271.70" stroke="#1c1c1c" stroke-width="1"/>
<rect x="208.86" y="252.16" width="5.60" height="16.54" fill="#bdbdbd" stroke="#7a7a7a" stroke-width="0.8"/>
<rect x="216.16" y="261.51" width="4.80" height="7.19" fill="#f8b133" stroke="#7a5a22" stroke-width="0.8"/>
<line x1="214.96" y1="268.70" x2="214.96" y2="271.70" stroke="#1c1c1c" stroke-width="1"/>
<rect x="226.79" y="225.56" width="5.60" height="43.14" fill="#bdbdbd" stroke="#7a7a7a" stroke-width="0.8"/>
<rect x="234.09" y="202.55" width="4.80" height="66.15" fill="#f8b133" stroke="#7a5a22" stroke-width="0.8"/>
<line x1="232.89" y1="268.70" x2="232.89" y2="271.70" stroke="#1c1c1c" stroke-width="1"/>
<rect x="244.72" y="222.68" width="5.60" height="46.02" fill="#bdbdbd" stroke="#7a7a7a" stroke-width="0.8"/>
<rect x="252.02" y="204.71" width="4.80" height="63.99" fill="#f8b133" stroke="#7a5a22" stroke-width="0.8"/>
<line x1="250.82" y1="268.70" x2="250.82" y2="271.70" stroke="#1c1c1c" stroke-width="1"/>
<rect x="262.65" y="250.72" width="5.60" height="17.97" fill="#bdbdbd" stroke="#7a7a7a" stroke-width="0.8"/>
<line x1="268.75" y1="268.70" x2="268.75" y2="271.70" stroke="#1c1c1c" stroke-width="1"/>
<text transform="translate(182.00,277.40) scale(1,1.06) rotate(-45) scale(0.91,1)" font-size="8" text-anchor="end" font-style="normal" fill="#1c1c1c" stroke="#1c1c1c" stroke-width="0.22">sgRNA1</text>
<text transform="translate(199.93,277.40) scale(1,1.06) rotate(-45) scale(0.91,1)" font-size="8" text-anchor="end" font-style="normal" fill="#1c1c1c" stroke="#1c1c1c" stroke-width="0.22">sgRNA2</text>
<text transform="translate(217.86,277.40) scale(1,1.06) rotate(-45) scale(0.91,1)" font-size="8" text-anchor="end" font-style="normal" fill="#1c1c1c" stroke="#1c1c1c" stroke-width="0.22">sgRNA3</text>
<text transform="translate(235.79,277.40) scale(1,1.06) rotate(-45) scale(0.91,1)" font-size="8" text-anchor="end" font-style="normal" fill="#1c1c1c" stroke="#1c1c1c" stroke-width="0.22">sgRNA4</text>
<text transform="translate(253.72,277.40) scale(1,1.06) rotate(-45) scale(0.91,1)" font-size="8" text-anchor="end" font-style="normal" fill="#1c1c1c" stroke="#1c1c1c" stroke-width="0.22">sgRNA5</text>
<text transform="translate(271.65,277.40) scale(1,1.06) rotate(-45) scale(0.91,1)" font-size="8" text-anchor="end" font-style="normal" fill="#1c1c1c" stroke="#1c1c1c" stroke-width="0.22">sgRNA6</text>
<text transform="translate(223.25,193.90) scale(1,1.1)" font-size="9.7" text-anchor="middle" font-weight="normal" font-style="italic" fill="#3a3a3a" stroke="#3a3a3a" stroke-width="0.22" >EphA1</text>
<line x1="302.00" y1="196.80" x2="302.00" y2="268.70" stroke="#1c1c1c" stroke-width="1"/>
<line x1="299.40" y1="268.70" x2="302.00" y2="268.70" stroke="#1c1c1c" stroke-width="1"/>
<text transform="translate(298.50,271.60) scale(1,1.16)" font-size="7.6" text-anchor="end" font-weight="normal" font-style="normal" fill="#1c1c1c" stroke="#1c1c1c" stroke-width="0.22" >0</text>
<line x1="299.40" y1="254.32" x2="302.00" y2="254.32" stroke="#1c1c1c" stroke-width="1"/>
<text transform="translate(298.50,257.22) scale(1,1.16)" font-size="7.6" text-anchor="end" font-weight="normal" font-style="normal" fill="#1c1c1c" stroke="#1c1c1c" stroke-width="0.22" >20</text>
<line x1="299.40" y1="239.94" x2="302.00" y2="239.94" stroke="#1c1c1c" stroke-width="1"/>
<text transform="translate(298.50,242.84) scale(1,1.16)" font-size="7.6" text-anchor="end" font-weight="normal" font-style="normal" fill="#1c1c1c" stroke="#1c1c1c" stroke-width="0.22" >40</text>
<line x1="299.40" y1="225.56" x2="302.00" y2="225.56" stroke="#1c1c1c" stroke-width="1"/>
<text transform="translate(298.50,228.46) scale(1,1.16)" font-size="7.6" text-anchor="end" font-weight="normal" font-style="normal" fill="#1c1c1c" stroke="#1c1c1c" stroke-width="0.22" >60</text>
<line x1="299.40" y1="211.18" x2="302.00" y2="211.18" stroke="#1c1c1c" stroke-width="1"/>
<text transform="translate(298.50,214.08) scale(1,1.16)" font-size="7.6" text-anchor="end" font-weight="normal" font-style="normal" fill="#1c1c1c" stroke="#1c1c1c" stroke-width="0.22" >80</text>
<line x1="299.40" y1="196.80" x2="302.00" y2="196.80" stroke="#1c1c1c" stroke-width="1"/>
<text transform="translate(298.50,199.70) scale(1,1.16)" font-size="7.6" text-anchor="end" font-weight="normal" font-style="normal" fill="#1c1c1c" stroke="#1c1c1c" stroke-width="0.22" >100</text>
<line x1="302.00" y1="268.70" x2="410.20" y2="268.70" stroke="#1c1c1c" stroke-width="1"/>
<rect x="304.90" y="231.31" width="5.60" height="37.39" fill="#bdbdbd" stroke="#7a7a7a" stroke-width="0.8"/>
<rect x="312.20" y="209.38" width="4.80" height="59.32" fill="#f8b133" stroke="#7a5a22" stroke-width="0.8"/>
<line x1="311.00" y1="268.70" x2="311.00" y2="271.70" stroke="#1c1c1c" stroke-width="1"/>
<rect x="322.83" y="211.18" width="5.60" height="57.52" fill="#bdbdbd" stroke="#7a7a7a" stroke-width="0.8"/>
<rect x="330.13" y="260.07" width="4.80" height="8.63" fill="#f8b133" stroke="#7a5a22" stroke-width="0.8"/>
<line x1="328.93" y1="268.70" x2="328.93" y2="271.70" stroke="#1c1c1c" stroke-width="1"/>
<rect x="340.76" y="265.11" width="5.60" height="3.59" fill="#bdbdbd" stroke="#7a7a7a" stroke-width="0.8"/>
<rect x="348.06" y="263.67" width="4.80" height="5.03" fill="#f8b133" stroke="#7a5a22" stroke-width="0.8"/>
<line x1="346.86" y1="268.70" x2="346.86" y2="271.70" stroke="#1c1c1c" stroke-width="1"/>
<rect x="358.69" y="211.90" width="5.60" height="56.80" fill="#bdbdbd" stroke="#7a7a7a" stroke-width="0.8"/>
<rect x="365.99" y="223.40" width="4.80" height="45.30" fill="#f8b133" stroke="#7a5a22" stroke-width="0.8"/>
<line x1="364.79" y1="268.70" x2="364.79" y2="271.70" stroke="#1c1c1c" stroke-width="1"/>
<rect x="376.62" y="207.94" width="5.60" height="60.76" fill="#bdbdbd" stroke="#7a7a7a" stroke-width="0.8"/>
<rect x="383.92" y="231.31" width="4.80" height="37.39" fill="#f8b133" stroke="#7a5a22" stroke-width="0.8"/>
<line x1="382.72" y1="268.70" x2="382.72" y2="271.70" stroke="#1c1c1c" stroke-width="1"/>
<rect x="394.55" y="212.62" width="5.60" height="56.08" fill="#bdbdbd" stroke="#7a7a7a" stroke-width="0.8"/>
<rect x="401.85" y="244.25" width="4.80" height="24.45" fill="#f8b133" stroke="#7a5a22" stroke-width="0.8"/>
<line x1="400.65" y1="268.70" x2="400.65" y2="271.70" stroke="#1c1c1c" stroke-width="1"/>
<text transform="translate(313.90,277.40) scale(1,1.06) rotate(-45) scale(0.91,1)" font-size="8" text-anchor="end" font-style="normal" fill="#1c1c1c" stroke="#1c1c1c" stroke-width="0.22">sgRNA1</text>
<text transform="translate(331.83,277.40) scale(1,1.06) rotate(-45) scale(0.91,1)" font-size="8" text-anchor="end" font-style="normal" fill="#1c1c1c" stroke="#1c1c1c" stroke-width="0.22">sgRNA2</text>
<text transform="translate(349.76,277.40) scale(1,1.06) rotate(-45) scale(0.91,1)" font-size="8" text-anchor="end" font-style="normal" fill="#1c1c1c" stroke="#1c1c1c" stroke-width="0.22">sgRNA3</text>
<text transform="translate(367.69,277.40) scale(1,1.06) rotate(-45) scale(0.91,1)" font-size="8" text-anchor="end" font-style="normal" fill="#1c1c1c" stroke="#1c1c1c" stroke-width="0.22">sgRNA4</text>
<text transform="translate(385.62,277.40) scale(1,1.06) rotate(-45) scale(0.91,1)" font-size="8" text-anchor="end" font-style="normal" fill="#1c1c1c" stroke="#1c1c1c" stroke-width="0.22">sgRNA5</text>
<text transform="translate(403.55,277.40) scale(1,1.06) rotate(-45) scale(0.91,1)" font-size="8" text-anchor="end" font-style="normal" fill="#1c1c1c" stroke="#1c1c1c" stroke-width="0.22">sgRNA6</text>
<text transform="translate(355.10,193.90) scale(1,1.1)" font-size="9.7" text-anchor="middle" font-weight="normal" font-style="italic" fill="#3a3a3a" stroke="#3a3a3a" stroke-width="0.22" >EphB4</text>
<line x1="434.50" y1="196.80" x2="434.50" y2="268.70" stroke="#1c1c1c" stroke-width="1"/>
<line x1="431.90" y1="268.70" x2="434.50" y2="268.70" stroke="#1c1c1c" stroke-width="1"/>
<text transform="translate(431.00,271.60) scale(1,1.16)" font-size="7.6" text-anchor="end" font-weight="normal" font-style="normal" fill="#1c1c1c" stroke="#1c1c1c" stroke-width="0.22" >0</text>
<line x1="431.90" y1="254.32" x2="434.50" y2="254.32" stroke="#1c1c1c" stroke-width="1"/>
<text transform="translate(431.00,257.22) scale(1,1.16)" font-size="7.6" text-anchor="end" font-weight="normal" font-style="normal" fill="#1c1c1c" stroke="#1c1c1c" stroke-width="0.22" >20</text>
<line x1="431.90" y1="239.94" x2="434.50" y2="239.94" stroke="#1c1c1c" stroke-width="1"/>
<text transform="translate(431.00,242.84) scale(1,1.16)" font-size="7.6" text-anchor="end" font-weight="normal" font-style="normal" fill="#1c1c1c" stroke="#1c1c1c" stroke-width="0.22" >40</text>
<line x1="431.90" y1="225.56" x2="434.50" y2="225.56" stroke="#1c1c1c" stroke-width="1"/>
<text transform="translate(431.00,228.46) scale(1,1.16)" font-size="7.6" text-anchor="end" font-weight="normal" font-style="normal" fill="#1c1c1c" stroke="#1c1c1c" stroke-width="0.22" >60</text>
<line x1="431.90" y1="211.18" x2="434.50" y2="211.18" stroke="#1c1c1c" stroke-width="1"/>
<text transform="translate(431.00,214.08) scale(1,1.16)" font-size="7.6" text-anchor="end" font-weight="normal" font-style="normal" fill="#1c1c1c" stroke="#1c1c1c" stroke-width="0.22" >80</text>
<line x1="431.90" y1="196.80" x2="434.50" y2="196.80" stroke="#1c1c1c" stroke-width="1"/>
<text transform="translate(431.00,199.70) scale(1,1.16)" font-size="7.6" text-anchor="end" font-weight="normal" font-style="normal" fill="#1c1c1c" stroke="#1c1c1c" stroke-width="0.22" >100</text>
<line x1="434.50" y1="268.70" x2="542.50" y2="268.70" stroke="#1c1c1c" stroke-width="1"/>
<rect x="437.20" y="238.50" width="5.60" height="30.20" fill="#bdbdbd" stroke="#7a7a7a" stroke-width="0.8"/>
<rect x="444.50" y="241.02" width="4.80" height="27.68" fill="#f8b133" stroke="#7a5a22" stroke-width="0.8"/>
<line x1="443.30" y1="268.70" x2="443.30" y2="271.70" stroke="#1c1c1c" stroke-width="1"/>
<rect x="455.13" y="207.94" width="5.60" height="60.76" fill="#bdbdbd" stroke="#7a7a7a" stroke-width="0.8"/>
<rect x="462.43" y="239.58" width="4.80" height="29.12" fill="#f8b133" stroke="#7a5a22" stroke-width="0.8"/>
<line x1="461.23" y1="268.70" x2="461.23" y2="271.70" stroke="#1c1c1c" stroke-width="1"/>
<rect x="473.06" y="234.91" width="5.60" height="33.79" fill="#bdbdbd" stroke="#7a7a7a" stroke-width="0.8"/>
<rect x="480.36" y="267.26" width="4.80" height="1.44" fill="#f8b133" stroke="#7a5a22" stroke-width="0.8"/>
<line x1="479.16" y1="268.70" x2="479.16" y2="271.70" stroke="#1c1c1c" stroke-width="1"/>
<rect x="490.99" y="203.99" width="5.60" height="64.71" fill="#bdbdbd" stroke="#7a7a7a" stroke-width="0.8"/>
<rect x="498.29" y="218.73" width="4.80" height="49.97" fill="#f8b133" stroke="#7a5a22" stroke-width="0.8"/>
<line x1="497.09" y1="268.70" x2="497.09" y2="271.70" stroke="#1c1c1c" stroke-width="1"/>
<rect x="508.92" y="210.46" width="5.60" height="58.24" fill="#bdbdbd" stroke="#7a7a7a" stroke-width="0.8"/>
<rect x="516.22" y="229.16" width="4.80" height="39.54" fill="#f8b133" stroke="#7a5a22" stroke-width="0.8"/>
<line x1="515.02" y1="268.70" x2="515.02" y2="271.70" stroke="#1c1c1c" stroke-width="1"/>
<rect x="526.85" y="214.42" width="5.60" height="54.28" fill="#bdbdbd" stroke="#7a7a7a" stroke-width="0.8"/>
<rect x="534.15" y="230.95" width="4.80" height="37.75" fill="#f8b133" stroke="#7a5a22" stroke-width="0.8"/>
<line x1="532.95" y1="268.70" x2="532.95" y2="271.70" stroke="#1c1c1c" stroke-width="1"/>
<text transform="translate(446.20,277.40) scale(1,1.06) rotate(-45) scale(0.91,1)" font-size="8" text-anchor="end" font-style="normal" fill="#1c1c1c" stroke="#1c1c1c" stroke-width="0.22">sgRNA1</text>
<text transform="translate(464.13,277.40) scale(1,1.06) rotate(-45) scale(0.91,1)" font-size="8" text-anchor="end" font-style="normal" fill="#1c1c1c" stroke="#1c1c1c" stroke-width="0.22">sgRNA2</text>
<text transform="translate(482.06,277.40) scale(1,1.06) rotate(-45) scale(0.91,1)" font-size="8" text-anchor="end" font-style="normal" fill="#1c1c1c" stroke="#1c1c1c" stroke-width="0.22">sgRNA3</text>
<text transform="translate(499.99,277.40) scale(1,1.06) rotate(-45) scale(0.91,1)" font-size="8" text-anchor="end" font-style="normal" fill="#1c1c1c" stroke="#1c1c1c" stroke-width="0.22">sgRNA4</text>
<text transform="translate(517.92,277.40) scale(1,1.06) rotate(-45) scale(0.91,1)" font-size="8" text-anchor="end" font-style="normal" fill="#1c1c1c" stroke="#1c1c1c" stroke-width="0.22">sgRNA5</text>
<text transform="translate(535.85,277.40) scale(1,1.06) rotate(-45) scale(0.91,1)" font-size="8" text-anchor="end" font-style="normal" fill="#1c1c1c" stroke="#1c1c1c" stroke-width="0.22">sgRNA6</text>
<text transform="translate(487.50,193.90) scale(1,1.1)" font-size="9.7" text-anchor="middle" font-weight="normal" font-style="italic" fill="#3a3a3a" stroke="#3a3a3a" stroke-width="0.22" >EMX1</text>
<text transform="translate(15.90,232.45) rotate(-90)" font-size="9.3" text-anchor="middle" fill="#1c1c1c" stroke="#1c1c1c" stroke-width="0.22">NHEJ accuracy (%)</text>
<rect x="408.20" y="171.20" width="11.20" height="4.80" fill="#bdbdbd" stroke="#7a7a7a" stroke-width="0.8"/>
<text transform="translate(422.30,176.80) scale(1,1.1)" font-size="8.3" text-anchor="start" font-weight="normal" font-style="normal" fill="#1c1c1c" stroke="#1c1c1c" stroke-width="0.22" >PAM-distal</text>
<rect x="472.80" y="171.40" width="11.20" height="4.80" fill="#f8b133" stroke="#7a5a22" stroke-width="0.8"/>
<text transform="translate(487.00,176.80) scale(1,1.1)" font-size="8.3" text-anchor="start" font-weight="normal" font-style="normal" fill="#1c1c1c" stroke="#1c1c1c" stroke-width="0.22" >PAM-proximal</text>
</svg>
</body></html>
